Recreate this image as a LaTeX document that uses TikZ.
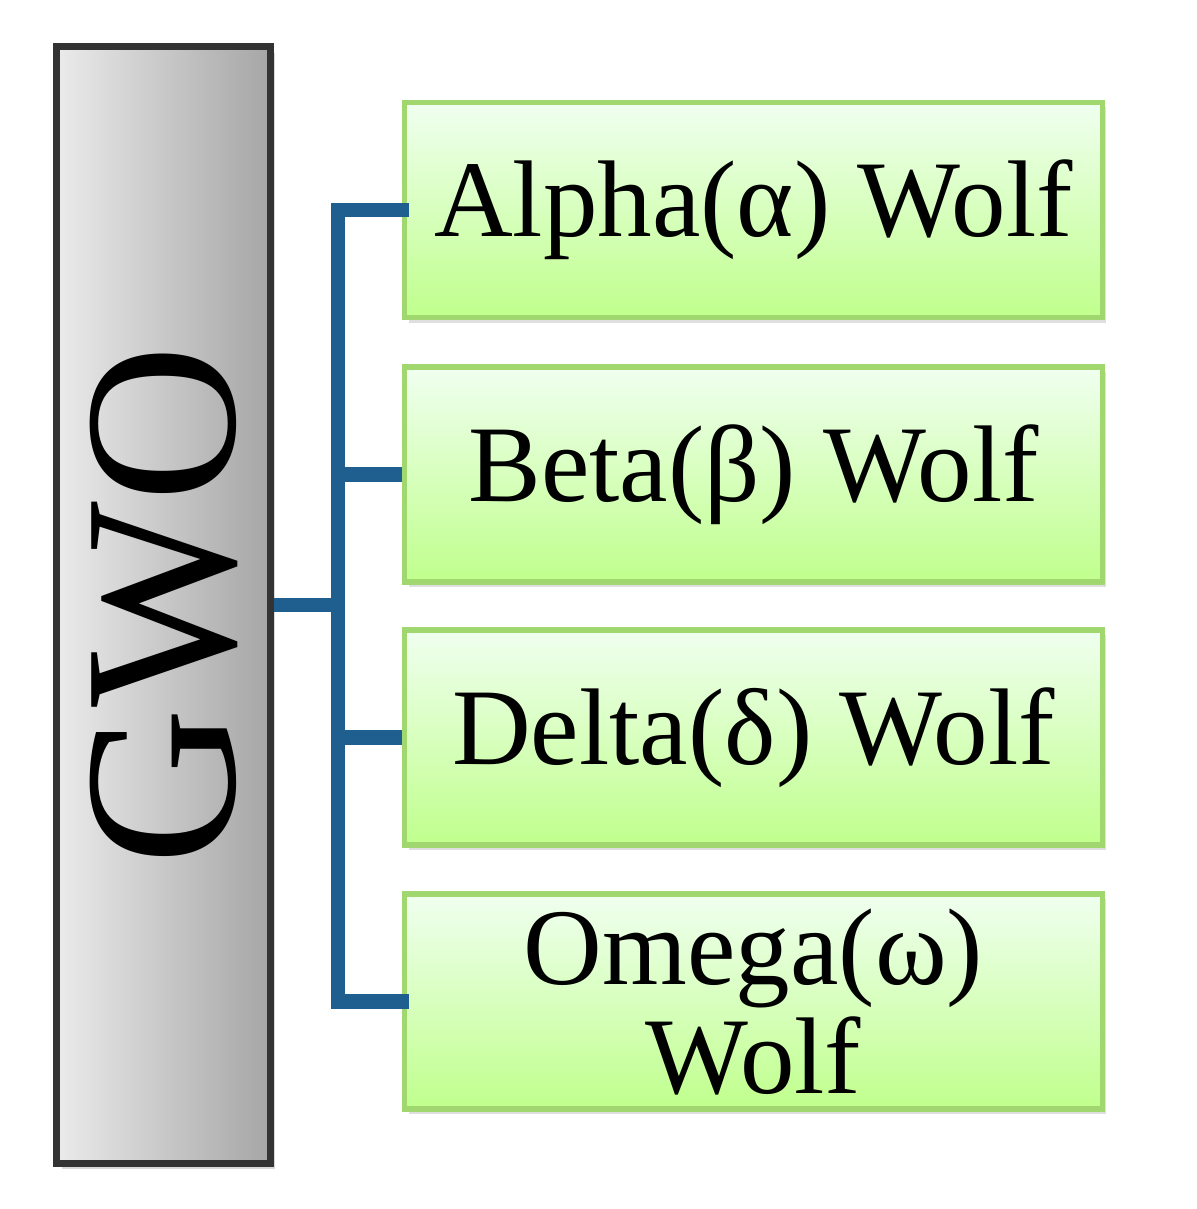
\documentclass[tikz,border=0pt]{standalone}
\usepackage{fontspec}
\setmainfont{Liberation Serif}
\usetikzlibrary{positioning,shadows}
\definecolor{linkblue}{RGB}{31,95,143}
\definecolor{boxgreen}{RGB}{160,215,110}
\tikzset{
  wolf/.style={draw=boxgreen,line width=1.5pt,top color=green!6!white,bottom color=green!40!lime!45!white,
    minimum width=6.97cm,minimum height=2.15cm,inner sep=0pt,align=center,
    font=\fontsize{31}{31}\selectfont,drop shadow={opacity=0.25,shadow xshift=0.04cm,shadow yshift=-0.05cm}},
  link/.style={linkblue,line width=4pt}
}
\begin{document}
\begin{tikzpicture}[x=0.01cm,y=-0.01cm]
\useasboundingbox (0,0) rectangle (1196,1209);
% main box
\node[draw=black!80,line width=2pt,left color=black!8,right color=black!35,minimum width=2.13cm,minimum height=11.16cm,
  inner sep=0pt,drop shadow={opacity=0.3,shadow xshift=0.05cm,shadow yshift=-0.06cm}] (gwo) at (163.5,605) {};
\node[rotate=90,font=\fontsize{62}{64}\selectfont] at (gwo.center) {GWO};
% wolves
\node[wolf] (alpha) at (753.5,210) {Alpha(α) Wolf};
\node[wolf] (beta) at (753.5,474.5) {Beta(β) Wolf};
\node[wolf] (delta) at (753.5,737.5) {Delta(δ) Wolf};
\node[wolf] (omega) at (753.5,1001.5) {Omega(ω)\\Wolf};
% connectors
\coordinate (trunk) at (338,605);
\draw[link] (gwo.east) -- (trunk);
\draw[link,line cap=rect] (alpha.west) -| (trunk) |- (omega.west);
\draw[link] (beta.west) -- (beta.west -| trunk);
\draw[link] (delta.west) -- (delta.west -| trunk);
\end{tikzpicture}
\end{document}
